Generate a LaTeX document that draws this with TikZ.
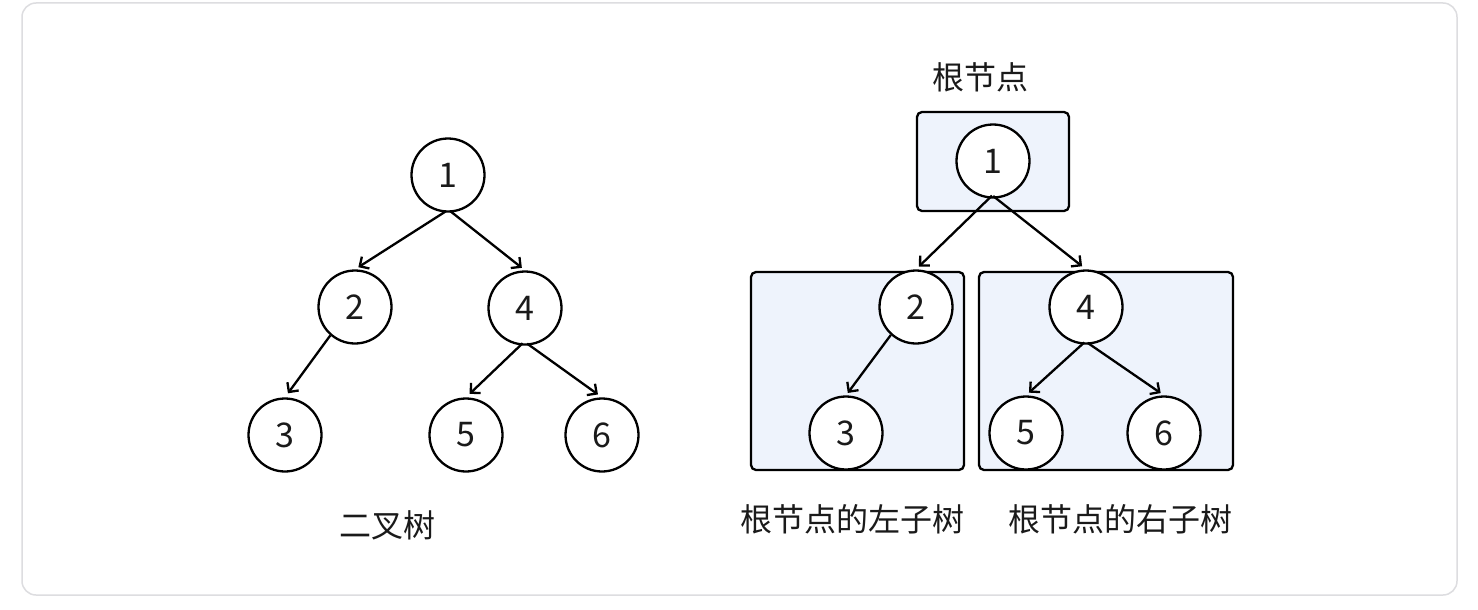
\documentclass[tikz,border=0pt]{standalone}
\usepackage{fontspec}
\setmainfont{Noto Sans CJK SC}
\usetikzlibrary{arrows.meta}
\definecolor{boxblue}{RGB}{238,243,252}
\definecolor{frame}{RGB}{221,221,224}
\definecolor{ink}{RGB}{26,26,26}
\tikzset{
  tnode/.style={circle, draw=black, line width=2.3pt, fill=white, minimum size=73pt, inner sep=0pt, font=\fontsize{34}{36}\selectfont, text=ink},
  arr/.style={draw=black, line width=2.3pt, -{Straight Barb[length=7pt,width=14pt,line width=2.3pt]}},
  subbox/.style={rectangle, draw=black, line width=2.3pt, fill=boxblue, rounded corners=5pt, inner sep=0pt},
  lab/.style={font=\fontsize{32}{34}\selectfont, text=ink, inner sep=0pt}
}
\begin{document}
\begin{tikzpicture}[x=1pt,y=1pt]
\useasboundingbox (0,0) rectangle (1478,-610);
\fill[white] (0,0) rectangle (1478,-610);
\node[draw=frame, line width=1.5pt, rounded corners=14pt, minimum width=1435pt, minimum height=592pt, inner sep=0pt] (frm) at (739.5,-299) {};

% left tree
\node[tnode] (a1) at (448,-175) {1};
\node[tnode] (a2) at (355,-307) {2};
\node[tnode] (a4) at (525,-308) {4};
\node[tnode] (a3) at (285,-435) {3};
\node[tnode] (a5) at (466,-435) {5};
\node[tnode] (a6) at (602,-435) {6};
\draw[arr, shorten <=-2pt, shorten >=4pt] (a1.264) -- (a2.north);
\draw[arr, shorten <=-2pt, shorten >=4pt] (a1.276) -- (a4.north);
\draw[arr, shorten >=5pt] (a2.229) -- (a3.north);
\draw[arr, shorten <=-3pt, shorten >=5pt] (a4.263) -- (a5.north);
\draw[arr, shorten <=-3pt, shorten >=5pt] (a4.277) -- (a6.north);
\node[lab] (t0) at (387,-525) {二叉树};

% right tree boxes
\node[subbox, minimum width=152pt, minimum height=99pt] (b0) at (993,-161.5) {};
\node[subbox, minimum width=213pt, minimum height=198pt] (bl) at (857.5,-371) {};
\node[subbox, minimum width=254pt, minimum height=198pt] (br) at (1106,-371) {};

\node[tnode] (r1) at (993,-161) {1};
\node[tnode] (r2) at (916,-307) {2};
\node[tnode] (r4) at (1086,-307) {4};
\node[tnode] (r3) at (846,-433) {3};
\node[tnode] (r5) at (1026,-433) {5};
\node[tnode] (r6) at (1164,-433) {6};
\draw[arr, shorten <=-4pt, shorten >=4pt] (r1.264) -- (r2.north);
\draw[arr, shorten <=-4pt, shorten >=5pt] (r1.275) -- (r4.north);
\draw[arr, shorten >=3pt] (r2.228) -- (r3.north);
\draw[arr, shorten <=-3pt, shorten >=4pt] (r4.264) -- (r5.north);
\draw[arr, shorten <=-3pt, shorten >=4pt] (r4.276) -- (r6.north);

\node[lab] (t1) at (980,-77) {根节点};
\node[lab] (t2) at (852,-519) {根节点的左子树};
\node[lab] (t3) at (1120,-519) {根节点的右子树};
\end{tikzpicture}
\end{document}
